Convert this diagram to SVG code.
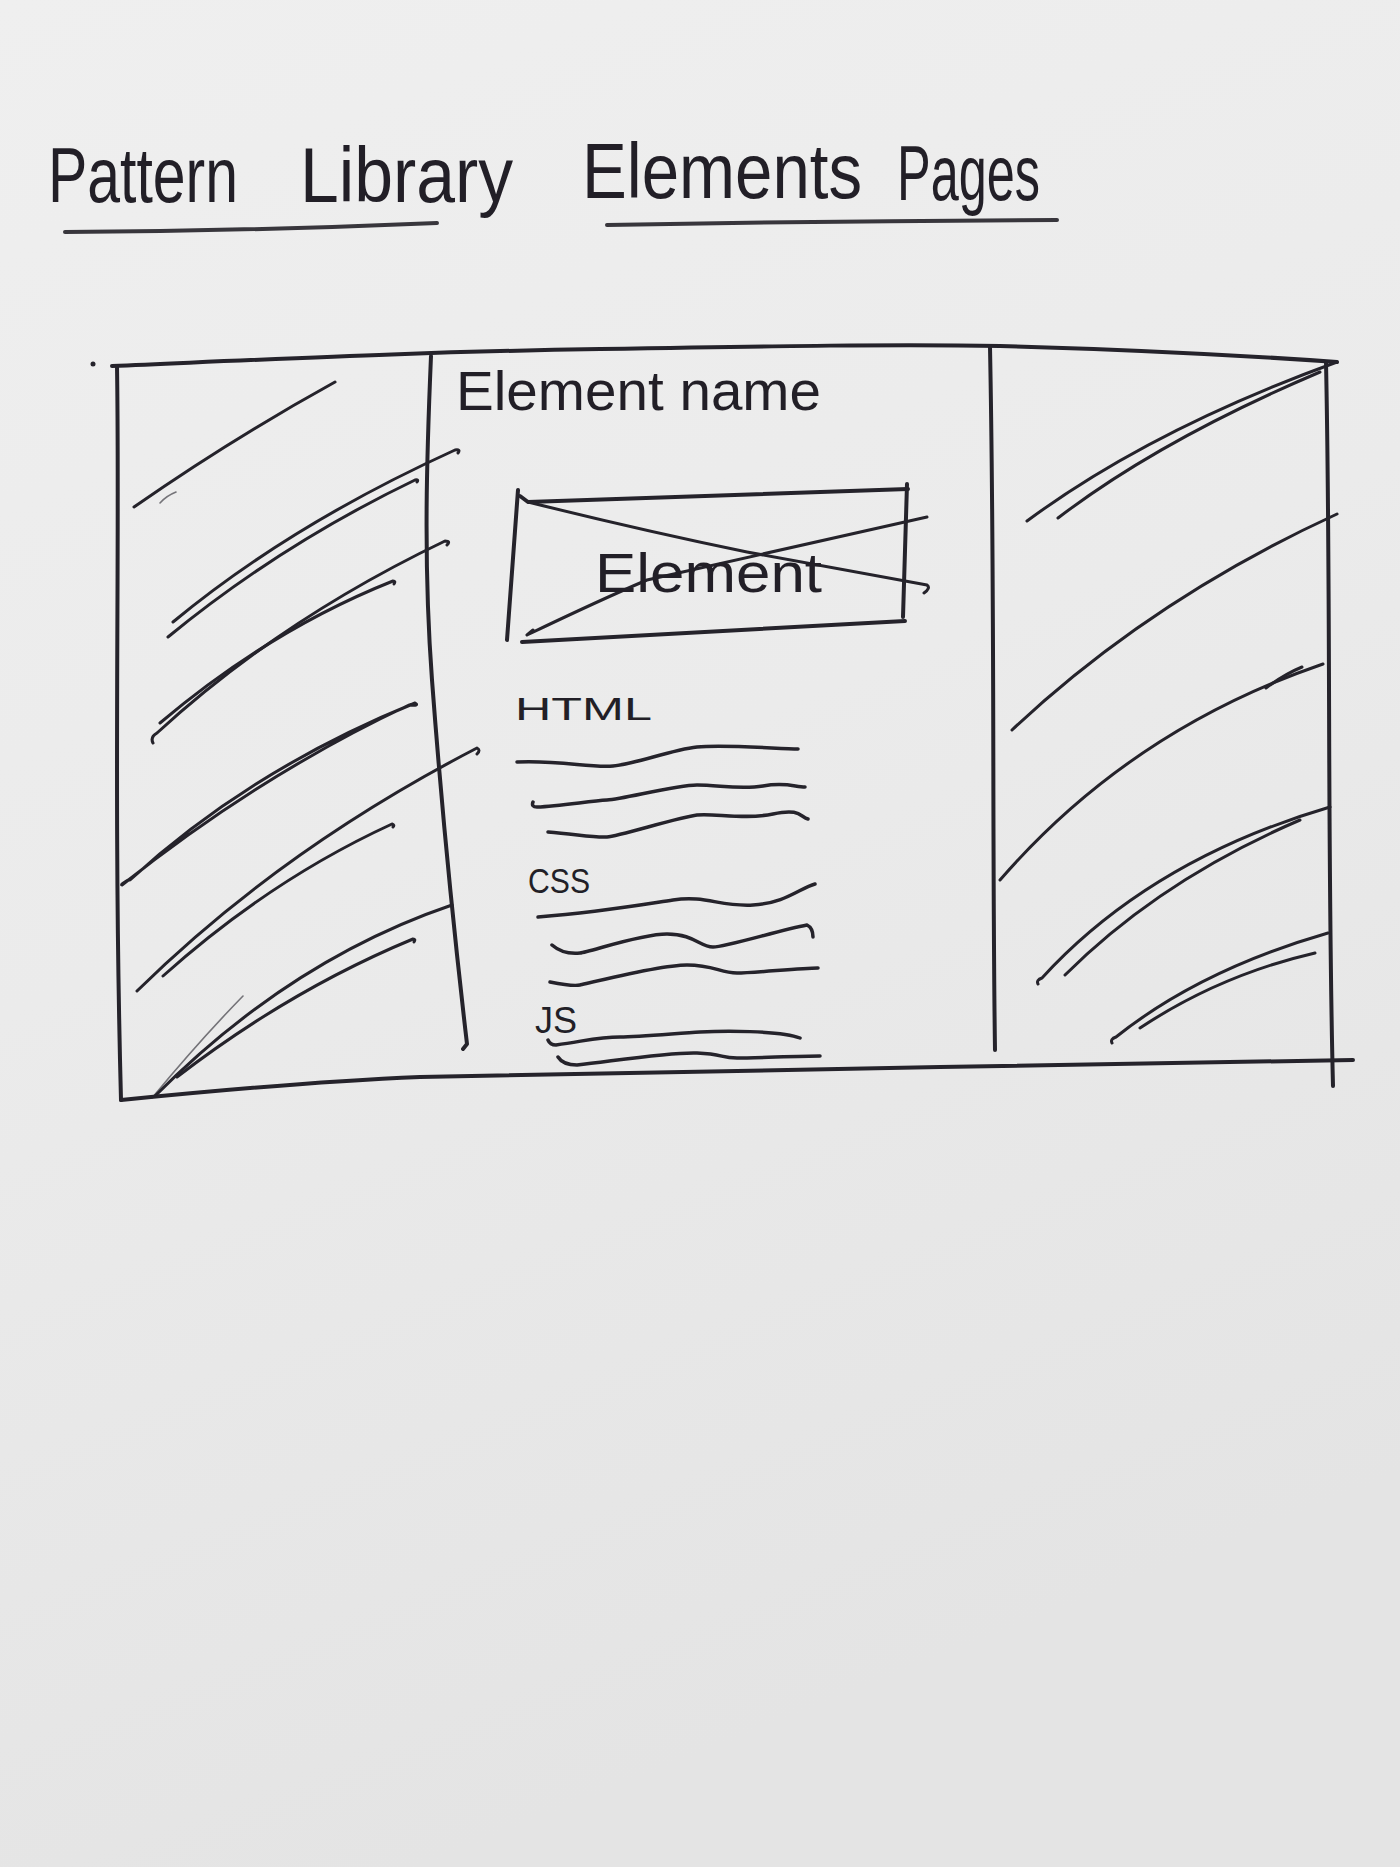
<svg xmlns="http://www.w3.org/2000/svg" width="1400" height="1867" viewBox="0 0 1400 1867">
<defs>
<linearGradient id="paper" x1="0" y1="0" x2="0.3" y2="1">
<stop offset="0" stop-color="#efefef"/>
<stop offset="0.5" stop-color="#ebebeb"/>
<stop offset="1" stop-color="#e4e4e4"/>
</linearGradient>
<style>
.ink{fill:none;stroke:#25232b;stroke-linecap:round;stroke-linejoin:round}
.frame{stroke-width:4}
.scr{stroke-width:3}
.thin{stroke-width:1.6;opacity:0.6}
.wave{stroke-width:3.5}
.ul{stroke-width:4;stroke:#38363c}
.t{fill:#221f27;font-family:"Liberation Sans","Open Sans",sans-serif}
</style>
</defs>
<rect x="0" y="0" width="1400" height="1867" fill="url(#paper)"/>

<g id="title">
<text class="t" x="48" y="202" font-size="78" textLength="190" lengthAdjust="spacingAndGlyphs">Pattern</text>
<text class="t" x="300" y="202" font-size="78" textLength="213" lengthAdjust="spacingAndGlyphs">Library</text>
<text class="t" x="582" y="198" font-size="78" textLength="280" lengthAdjust="spacingAndGlyphs">Elements</text>
<text class="t" x="897" y="200" font-size="78" textLength="143" lengthAdjust="spacingAndGlyphs">Pages</text>
<path class="ink ul" d="M65,232 Q250,231 437,223"/>
<path class="ink ul" d="M607,225 Q830,221 1057,220"/>
</g>

<g id="frame">
<circle cx="93" cy="364" r="2.5" fill="#25232b"/>
<path class="ink frame" d="M112,366 C300,358 420,352 600,349 S900,344 1000,346 C1150,350 1280,358 1337,362"/>
<path class="ink frame" d="M117,366 C120,550 113,800 121,1100"/>
<path class="ink frame" d="M1326,362 C1331,600 1327,850 1333,1086"/>
<path class="ink frame" d="M121,1100 Q300,1082 420,1077 L940,1067 L1353,1060"/>
<path class="ink frame" d="M431,356 C427,450 423,560 432,680 C441,800 456,950 467,1044 l-4,5"/>
<path class="ink frame" d="M990,347 C995,600 992,850 995,1050"/>
</g>

<g id="left-column">
<path class="ink scr" d="M134,507 Q230,440 335,382"/>
<path class="ink thin" d="M160,503 Q166,496 176,492"/>
<path class="ink scr" d="M173,622 Q290,525 455,450 q6,-1 3,3"/>
<path class="ink scr" d="M168,637 Q280,545 415,480 q4,-1 2,2"/>
<path class="ink scr" d="M153,743 q-3,-6 4,-10 Q280,620 445,541 q6,0 2,4"/>
<path class="ink scr" d="M160,723 Q270,630 393,581 q3,0 1,3"/>
<path class="ink scr" d="M130,880 Q250,770 415,703 q5,3 -6,2 Q260,775 122,885 q-2,0 6,-5"/>
<path class="ink scr" d="M137,991 Q280,850 477,748 q4,2 0,6"/>
<path class="ink scr" d="M163,976 Q270,880 392,824 q3,1 1,3"/>
<path class="ink scr" d="M155,1096 Q290,960 452,905"/>
<path class="ink scr" d="M177,1077 Q290,990 413,939 q3,0 1,3"/>
<path class="ink thin" d="M152,1098 Q200,1040 243,996"/>
</g>

<g id="content">
<text class="t" x="456" y="410" font-size="56" textLength="365" lengthAdjust="spacingAndGlyphs">Element name</text>
<g id="element-box">
<path class="ink frame" d="M518,490 L507,640"/>
<path class="ink frame" d="M520,496 L528,502 L908,489"/>
<path class="ink frame" d="M907,484 L903,617"/>
<path class="ink frame" d="M522,642 L905,621"/>
<path class="ink scr" d="M528,502 Q640,530 747,552 L927,585 q4,3 -3,8"/>
<path class="ink scr" d="M533,630 l-6,5 Q600,600 647,580 L927,517"/>
<text class="t" x="595" y="592" font-size="56" textLength="227" lengthAdjust="spacingAndGlyphs">Element</text>
</g>
<text class="t" x="515" y="720" font-size="32" textLength="137" lengthAdjust="spacingAndGlyphs">HTML</text>
<path class="ink wave" d="M517,762 C560,760 590,768 613,766 S670,750 697,747 S780,749 798,749"/>
<path class="ink wave" d="M533,802 q-2,5 4,5 C560,806 590,801 607,800 S675,785 697,785 S740,790 763,786 S795,787 805,787"/>
<path class="ink wave" d="M548,832 C575,834 595,838 607,837 S680,817 697,815 S745,820 773,814 S800,817 808,819"/>
<text class="t" x="528" y="893" font-size="35" textLength="62" lengthAdjust="spacingAndGlyphs">CSS</text>
<path class="ink wave" d="M538,917 C600,912 640,905 673,900 S720,907 753,905 S800,888 815,884"/>
<path class="ink wave" d="M552,945 C560,952 570,954 580,953 S640,934 667,934 S700,947 713,947 S780,930 807,925 q6,3 6,12"/>
<path class="ink wave" d="M550,982 C565,985 575,986 580,985 S660,965 687,965 S720,973 737,973 S800,968 818,968"/>
<text class="t" x="535" y="1033" font-size="36" textLength="42" lengthAdjust="spacingAndGlyphs">JS</text>
<path class="ink wave" d="M548,1040 q2,5 8,5 C590,1040 600,1037 620,1037 S680,1033 700,1032 S780,1030 800,1038"/>
<path class="ink wave" d="M558,1057 q5,8 19,8 C620,1060 670,1052 697,1053 S720,1058 737,1058 S800,1056 820,1056"/>
</g>

<g id="right-column">
<path class="ink scr" d="M1027,521 Q1150,430 1337,362"/>
<path class="ink scr" d="M1058,518 Q1160,440 1320,372"/>
<path class="ink scr" d="M1012,730 Q1150,600 1337,514"/>
<path class="ink scr" d="M1000,880 Q1130,730 1323,664"/>
<path class="ink scr" d="M1302,667 Q1285,674 1266,688"/>
<path class="ink scr" d="M1038,984 q-2,-4 4,-6 Q1150,860 1330,807"/>
<path class="ink scr" d="M1065,975 Q1160,880 1300,820"/>
<path class="ink scr" d="M1112,1043 q-2,-4 4,-6 Q1200,970 1328,933"/>
<path class="ink scr" d="M1140,1028 Q1220,975 1315,953"/>
</g>
</svg>
